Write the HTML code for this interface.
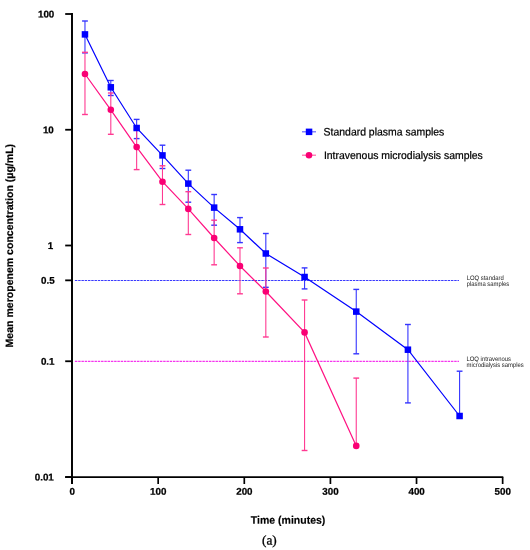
<!DOCTYPE html>
<html><head><meta charset="utf-8"><style>html,body{margin:0;padding:0;background:#fff;width:530px;height:550px;overflow:hidden}svg{display:block}text{text-rendering:geometricPrecision}</style></head>
<body>
<svg width="530" height="550" viewBox="0 0 530 550">
<rect width="530" height="550" fill="#fff"/>
<line x1="74.9" y1="280.5" x2="459" y2="280.5" stroke="#3a3aff" stroke-width="1.2" stroke-dasharray="2.45 0.82"/>
<line x1="74.9" y1="361.4" x2="459" y2="361.4" stroke="#f535ee" stroke-width="1.25" stroke-dasharray="2.45 0.82"/>
<line x1="84.97" y1="21.0" x2="84.97" y2="52.9" stroke="#3535ff" stroke-width="1.1"/>
<line x1="82.07" y1="21.0" x2="87.87" y2="21.0" stroke="#3535ff" stroke-width="1.4"/>
<line x1="82.07" y1="52.9" x2="87.87" y2="52.9" stroke="#3535ff" stroke-width="1.4"/>
<line x1="110.80" y1="80.5" x2="110.80" y2="95.5" stroke="#3535ff" stroke-width="1.1"/>
<line x1="107.90" y1="80.5" x2="113.70" y2="80.5" stroke="#3535ff" stroke-width="1.4"/>
<line x1="107.90" y1="95.5" x2="113.70" y2="95.5" stroke="#3535ff" stroke-width="1.4"/>
<line x1="136.64" y1="119.4" x2="136.64" y2="138.6" stroke="#3535ff" stroke-width="1.1"/>
<line x1="133.74" y1="119.4" x2="139.54" y2="119.4" stroke="#3535ff" stroke-width="1.4"/>
<line x1="133.74" y1="138.6" x2="139.54" y2="138.6" stroke="#3535ff" stroke-width="1.4"/>
<line x1="162.48" y1="145.2" x2="162.48" y2="168.5" stroke="#3535ff" stroke-width="1.1"/>
<line x1="159.58" y1="145.2" x2="165.38" y2="145.2" stroke="#3535ff" stroke-width="1.4"/>
<line x1="159.58" y1="168.5" x2="165.38" y2="168.5" stroke="#3535ff" stroke-width="1.4"/>
<line x1="188.31" y1="170.2" x2="188.31" y2="202.2" stroke="#3535ff" stroke-width="1.1"/>
<line x1="185.41" y1="170.2" x2="191.21" y2="170.2" stroke="#3535ff" stroke-width="1.4"/>
<line x1="185.41" y1="202.2" x2="191.21" y2="202.2" stroke="#3535ff" stroke-width="1.4"/>
<line x1="214.15" y1="194.5" x2="214.15" y2="225.2" stroke="#3535ff" stroke-width="1.1"/>
<line x1="211.25" y1="194.5" x2="217.05" y2="194.5" stroke="#3535ff" stroke-width="1.4"/>
<line x1="211.25" y1="225.2" x2="217.05" y2="225.2" stroke="#3535ff" stroke-width="1.4"/>
<line x1="239.98" y1="217.6" x2="239.98" y2="242.6" stroke="#3535ff" stroke-width="1.1"/>
<line x1="237.08" y1="217.6" x2="242.88" y2="217.6" stroke="#3535ff" stroke-width="1.4"/>
<line x1="237.08" y1="242.6" x2="242.88" y2="242.6" stroke="#3535ff" stroke-width="1.4"/>
<line x1="265.82" y1="233.5" x2="265.82" y2="287.3" stroke="#3535ff" stroke-width="1.1"/>
<line x1="262.92" y1="233.5" x2="268.72" y2="233.5" stroke="#3535ff" stroke-width="1.4"/>
<line x1="262.92" y1="287.3" x2="268.72" y2="287.3" stroke="#3535ff" stroke-width="1.4"/>
<line x1="304.57" y1="267.9" x2="304.57" y2="288.9" stroke="#3535ff" stroke-width="1.1"/>
<line x1="301.67" y1="267.9" x2="307.47" y2="267.9" stroke="#3535ff" stroke-width="1.4"/>
<line x1="301.67" y1="288.9" x2="307.47" y2="288.9" stroke="#3535ff" stroke-width="1.4"/>
<line x1="356.25" y1="289.4" x2="356.25" y2="353.8" stroke="#3535ff" stroke-width="1.1"/>
<line x1="353.35" y1="289.4" x2="359.15" y2="289.4" stroke="#3535ff" stroke-width="1.4"/>
<line x1="353.35" y1="353.8" x2="359.15" y2="353.8" stroke="#3535ff" stroke-width="1.4"/>
<line x1="407.92" y1="324.5" x2="407.92" y2="402.9" stroke="#3535ff" stroke-width="1.1"/>
<line x1="405.02" y1="324.5" x2="410.82" y2="324.5" stroke="#3535ff" stroke-width="1.4"/>
<line x1="405.02" y1="402.9" x2="410.82" y2="402.9" stroke="#3535ff" stroke-width="1.4"/>
<line x1="459.59" y1="371.2" x2="459.59" y2="416.0" stroke="#3535ff" stroke-width="1.1"/>
<line x1="456.69" y1="371.2" x2="462.49" y2="371.2" stroke="#3535ff" stroke-width="1.4"/>
<line x1="84.97" y1="52.3" x2="84.97" y2="114.5" stroke="#ff3a92" stroke-width="1.1"/>
<line x1="82.07" y1="52.3" x2="87.87" y2="52.3" stroke="#ff3a92" stroke-width="1.4"/>
<line x1="82.07" y1="114.5" x2="87.87" y2="114.5" stroke="#ff3a92" stroke-width="1.4"/>
<line x1="110.80" y1="93.0" x2="110.80" y2="134.3" stroke="#ff3a92" stroke-width="1.1"/>
<line x1="107.90" y1="93.0" x2="113.70" y2="93.0" stroke="#ff3a92" stroke-width="1.4"/>
<line x1="107.90" y1="134.3" x2="113.70" y2="134.3" stroke="#ff3a92" stroke-width="1.4"/>
<line x1="136.64" y1="129.5" x2="136.64" y2="169.6" stroke="#ff3a92" stroke-width="1.1"/>
<line x1="133.74" y1="129.5" x2="139.54" y2="129.5" stroke="#ff3a92" stroke-width="1.4"/>
<line x1="133.74" y1="169.6" x2="139.54" y2="169.6" stroke="#ff3a92" stroke-width="1.4"/>
<line x1="162.48" y1="165.8" x2="162.48" y2="204.5" stroke="#ff3a92" stroke-width="1.1"/>
<line x1="159.58" y1="165.8" x2="165.38" y2="165.8" stroke="#ff3a92" stroke-width="1.4"/>
<line x1="159.58" y1="204.5" x2="165.38" y2="204.5" stroke="#ff3a92" stroke-width="1.4"/>
<line x1="188.31" y1="191.7" x2="188.31" y2="234.5" stroke="#ff3a92" stroke-width="1.1"/>
<line x1="185.41" y1="191.7" x2="191.21" y2="191.7" stroke="#ff3a92" stroke-width="1.4"/>
<line x1="185.41" y1="234.5" x2="191.21" y2="234.5" stroke="#ff3a92" stroke-width="1.4"/>
<line x1="214.15" y1="220.2" x2="214.15" y2="264.8" stroke="#ff3a92" stroke-width="1.1"/>
<line x1="211.25" y1="220.2" x2="217.05" y2="220.2" stroke="#ff3a92" stroke-width="1.4"/>
<line x1="211.25" y1="264.8" x2="217.05" y2="264.8" stroke="#ff3a92" stroke-width="1.4"/>
<line x1="239.98" y1="247.8" x2="239.98" y2="293.8" stroke="#ff3a92" stroke-width="1.1"/>
<line x1="237.08" y1="247.8" x2="242.88" y2="247.8" stroke="#ff3a92" stroke-width="1.4"/>
<line x1="237.08" y1="293.8" x2="242.88" y2="293.8" stroke="#ff3a92" stroke-width="1.4"/>
<line x1="265.82" y1="268.0" x2="265.82" y2="337.0" stroke="#ff3a92" stroke-width="1.1"/>
<line x1="262.92" y1="268.0" x2="268.72" y2="268.0" stroke="#ff3a92" stroke-width="1.4"/>
<line x1="262.92" y1="337.0" x2="268.72" y2="337.0" stroke="#ff3a92" stroke-width="1.4"/>
<line x1="304.57" y1="300.0" x2="304.57" y2="450.5" stroke="#ff3a92" stroke-width="1.1"/>
<line x1="301.67" y1="300.0" x2="307.47" y2="300.0" stroke="#ff3a92" stroke-width="1.4"/>
<line x1="301.67" y1="450.5" x2="307.47" y2="450.5" stroke="#ff3a92" stroke-width="1.4"/>
<line x1="356.25" y1="378.1" x2="356.25" y2="445.9" stroke="#ff3a92" stroke-width="1.1"/>
<line x1="353.35" y1="378.1" x2="359.15" y2="378.1" stroke="#ff3a92" stroke-width="1.4"/>
<polyline points="84.97,74.0 110.80,109.8 136.64,147.1 162.48,181.7 188.31,208.9 214.15,238.0 239.98,266.0 265.82,291.5 304.57,332.4 356.25,445.9" fill="none" stroke="#ff1282" stroke-width="1.2"/>
<polyline points="84.97,34.4 110.80,87.3 136.64,128.0 162.48,155.4 188.31,183.6 214.15,207.6 239.98,229.3 265.82,253.5 304.57,277.0 356.25,311.6 407.92,349.7 459.59,416.0" fill="none" stroke="#0000ff" stroke-width="1.2"/>
<circle cx="84.97" cy="74.0" r="3.3" fill="#fa0074"/>
<circle cx="110.80" cy="109.8" r="3.3" fill="#fa0074"/>
<circle cx="136.64" cy="147.1" r="3.3" fill="#fa0074"/>
<circle cx="162.48" cy="181.7" r="3.3" fill="#fa0074"/>
<circle cx="188.31" cy="208.9" r="3.3" fill="#fa0074"/>
<circle cx="214.15" cy="238.0" r="3.3" fill="#fa0074"/>
<circle cx="239.98" cy="266.0" r="3.3" fill="#fa0074"/>
<circle cx="265.82" cy="291.5" r="3.3" fill="#fa0074"/>
<circle cx="304.57" cy="332.4" r="3.3" fill="#fa0074"/>
<circle cx="356.25" cy="445.9" r="3.3" fill="#fa0074"/>
<rect x="81.72" y="31.15" width="6.5" height="6.5" fill="#0000ff"/>
<rect x="107.55" y="84.05" width="6.5" height="6.5" fill="#0000ff"/>
<rect x="133.39" y="124.75" width="6.5" height="6.5" fill="#0000ff"/>
<rect x="159.23" y="152.15" width="6.5" height="6.5" fill="#0000ff"/>
<rect x="185.06" y="180.35" width="6.5" height="6.5" fill="#0000ff"/>
<rect x="210.90" y="204.35" width="6.5" height="6.5" fill="#0000ff"/>
<rect x="236.73" y="226.05" width="6.5" height="6.5" fill="#0000ff"/>
<rect x="262.57" y="250.25" width="6.5" height="6.5" fill="#0000ff"/>
<rect x="301.32" y="273.75" width="6.5" height="6.5" fill="#0000ff"/>
<rect x="353.00" y="308.35" width="6.5" height="6.5" fill="#0000ff"/>
<rect x="404.67" y="346.45" width="6.5" height="6.5" fill="#0000ff"/>
<rect x="456.34" y="412.75" width="6.5" height="6.5" fill="#0000ff"/>
<line x1="72.0" y1="13.0" x2="72.0" y2="484" stroke="#000" stroke-width="1.95"/>
<line x1="65.2" y1="477.2" x2="503.3" y2="477.2" stroke="#000" stroke-width="1.7"/>
<line x1="65.2" y1="14.00" x2="72.1" y2="14.00" stroke="#000" stroke-width="1.8"/>
<text transform="translate(54.30,17.45) rotate(0.05)" text-anchor="end" font-family="Liberation Sans, sans-serif" font-weight="bold" font-size="9.8" stroke="#000" stroke-width="0.24">100</text>
<line x1="65.2" y1="129.75" x2="72.1" y2="129.75" stroke="#000" stroke-width="1.8"/>
<text transform="translate(53.80,133.20) rotate(0.05)" text-anchor="end" font-family="Liberation Sans, sans-serif" font-weight="bold" font-size="9.8" stroke="#000" stroke-width="0.24">10</text>
<line x1="65.2" y1="245.50" x2="72.1" y2="245.50" stroke="#000" stroke-width="1.8"/>
<text transform="translate(53.20,248.95) rotate(0.05)" text-anchor="end" font-family="Liberation Sans, sans-serif" font-weight="bold" font-size="9.8" stroke="#000" stroke-width="0.24">1</text>
<line x1="65.2" y1="280.34" x2="72.1" y2="280.34" stroke="#000" stroke-width="1.8"/>
<text transform="translate(54.70,283.79) rotate(0.05)" text-anchor="end" font-family="Liberation Sans, sans-serif" font-weight="bold" font-size="9.8" stroke="#000" stroke-width="0.24">0.5</text>
<line x1="65.2" y1="361.25" x2="72.1" y2="361.25" stroke="#000" stroke-width="1.8"/>
<text transform="translate(54.55,364.70) rotate(0.05)" text-anchor="end" font-family="Liberation Sans, sans-serif" font-weight="bold" font-size="9.8" stroke="#000" stroke-width="0.24">0.1</text>
<line x1="65.2" y1="477.00" x2="72.1" y2="477.00" stroke="#000" stroke-width="1.8"/>
<text transform="translate(53.80,480.45) rotate(0.05)" text-anchor="end" font-family="Liberation Sans, sans-serif" font-weight="bold" font-size="9.8" stroke="#000" stroke-width="0.24">0.01</text>
<line x1="72.05" y1="477.2" x2="72.05" y2="484" stroke="#000" stroke-width="1.7"/>
<text transform="translate(72.15,494.7) rotate(0.05)" text-anchor="middle" font-family="Liberation Sans, sans-serif" font-weight="bold" font-size="9.8" stroke="#000" stroke-width="0.24">0</text>
<line x1="158.17" y1="477.2" x2="158.17" y2="484" stroke="#000" stroke-width="1.7"/>
<text transform="translate(158.27,494.7) rotate(0.05)" text-anchor="middle" font-family="Liberation Sans, sans-serif" font-weight="bold" font-size="9.8" stroke="#000" stroke-width="0.24">100</text>
<line x1="244.29" y1="477.2" x2="244.29" y2="484" stroke="#000" stroke-width="1.7"/>
<text transform="translate(244.39,494.7) rotate(0.05)" text-anchor="middle" font-family="Liberation Sans, sans-serif" font-weight="bold" font-size="9.8" stroke="#000" stroke-width="0.24">200</text>
<line x1="330.41" y1="477.2" x2="330.41" y2="484" stroke="#000" stroke-width="1.7"/>
<text transform="translate(330.51,494.7) rotate(0.05)" text-anchor="middle" font-family="Liberation Sans, sans-serif" font-weight="bold" font-size="9.8" stroke="#000" stroke-width="0.24">300</text>
<line x1="416.53" y1="477.2" x2="416.53" y2="484" stroke="#000" stroke-width="1.7"/>
<text transform="translate(416.63,494.7) rotate(0.05)" text-anchor="middle" font-family="Liberation Sans, sans-serif" font-weight="bold" font-size="9.8" stroke="#000" stroke-width="0.24">400</text>
<line x1="502.65" y1="477.2" x2="502.65" y2="484" stroke="#000" stroke-width="1.7"/>
<text transform="translate(502.75,494.7) rotate(0.05)" text-anchor="middle" font-family="Liberation Sans, sans-serif" font-weight="bold" font-size="9.8" stroke="#000" stroke-width="0.24">500</text>
<text transform="translate(12.7,245.7) rotate(-90)" text-anchor="middle" font-family="Liberation Sans, sans-serif" font-weight="bold" font-size="10.55" stroke="#000" stroke-width="0.2">Mean meropenem concentration (µg/mL)</text>
<text transform="translate(288.1,523.7) scale(1,1.045) rotate(0.05)" text-anchor="middle" font-family="Liberation Sans, sans-serif" font-weight="bold" font-size="10.5" stroke="#000" stroke-width="0.15">Time (minutes)</text>
<text transform="translate(269.4,544.4) rotate(0.05)" text-anchor="middle" font-family="Liberation Serif, serif" font-size="13.3" stroke="#000" stroke-width="0.3">(a)</text>
<line x1="302" y1="131.8" x2="316" y2="131.8" stroke="#6464ff" stroke-width="1.2"/>
<rect x="305.8" y="128.6" width="6.5" height="6.5" fill="#0000ff"/>
<line x1="302" y1="155.2" x2="316" y2="155.2" stroke="#ff64a8" stroke-width="1.2"/>
<circle cx="309" cy="155.2" r="3.3" fill="#fa0074"/>
<text transform="translate(323.6,135.5) scale(1,1.045) rotate(0.05)" font-family="Liberation Sans, sans-serif" font-size="10.45" fill="#000" stroke="#000" stroke-width="0.22">Standard plasma samples</text>
<text transform="translate(323.9,158.9) scale(1,1.045) rotate(0.05)" font-family="Liberation Sans, sans-serif" font-size="10.45" fill="#000" stroke="#000" stroke-width="0.22">Intravenous microdialysis samples</text>
<text transform="translate(466.7,279.5) scale(0.9,1)" font-family="Liberation Sans, sans-serif" font-size="6.55" fill="#222">LOQ standard</text>
<text transform="translate(466.7,285.6) scale(0.9,1)" font-family="Liberation Sans, sans-serif" font-size="6.55" fill="#222">plasma samples</text>
<text transform="translate(466.5,360.6) scale(0.9,1)" font-family="Liberation Sans, sans-serif" font-size="6.55" fill="#222">LOQ intravenous</text>
<text transform="translate(466.5,366.8) scale(0.9,1)" font-family="Liberation Sans, sans-serif" font-size="6.55" fill="#222">microdialysis samples</text>
</svg>
</body></html>
